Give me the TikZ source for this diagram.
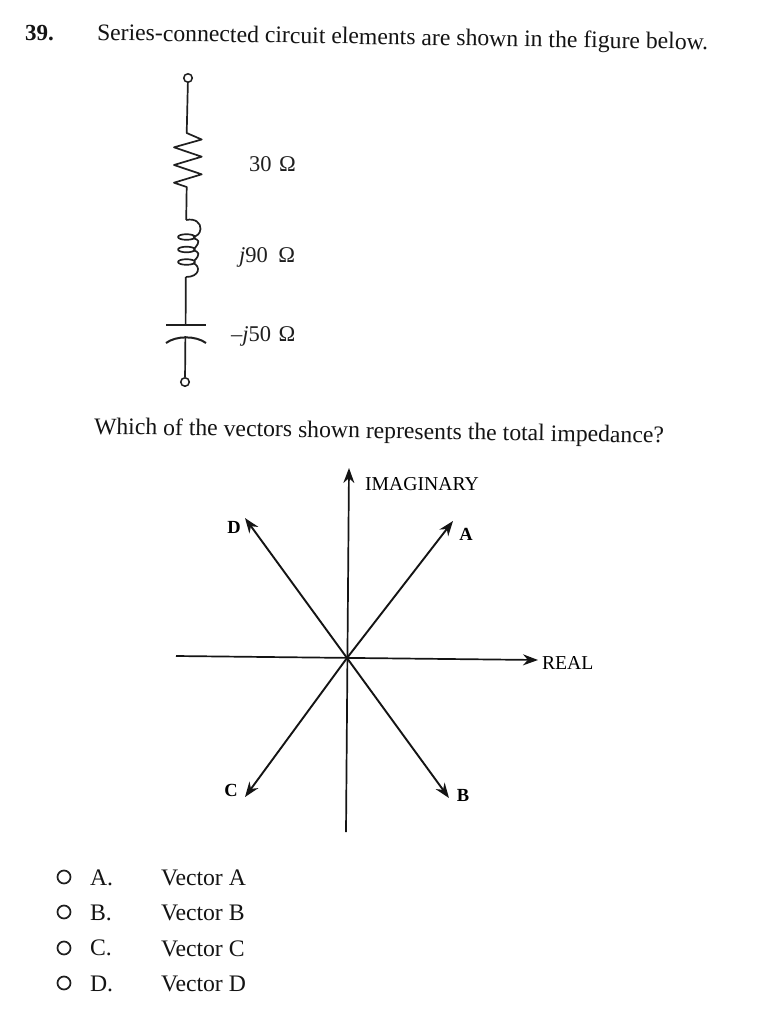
\documentclass[tikz,border=0pt]{standalone}
\usepackage{fontspec}
\setmainfont{Liberation Serif}
\usetikzlibrary{arrows.meta}
\tikzset{
  txt/.style={anchor=base west,inner sep=0pt,outer sep=0pt,font=\fontsize{23.7}{26}\selectfont,text=black!92},
  para/.style={txt,rotate=-0.9},
  lab/.style={anchor=base west,inner sep=0pt,outer sep=0pt,font=\fontsize{22.5}{24}\selectfont,text=black!88},
  axlab/.style={anchor=base west,inner sep=0pt,outer sep=0pt,font=\fontsize{19.7}{24}\selectfont,text=black},
  veclab/.style={anchor=center,inner sep=0pt,outer sep=0pt,font=\bfseries\fontsize{18.5}{20}\selectfont,text=black},
  wire/.style={line width=1.7pt,draw=black!88,line join=round},
  term/.style={circle,draw=black!88,line width=1.5pt,minimum size=8.5pt,inner sep=0pt,fill=white},
  vec/.style={line width=1.9pt,draw=black!92,-{Stealth[length=15pt,width=11pt]}},
  axisline/.style={line width=1.7pt,draw=black!92},
  radio/.style={circle,draw=black!88,line width=1.7pt,minimum size=13pt,inner sep=0pt}
}
\begin{document}
\begin{tikzpicture}[x=1pt,y=-1pt]
\useasboundingbox (0,0) rectangle (756,1010);
\fill[white] (0,0) rectangle (756,1010);

\node[txt,font=\bfseries\fontsize{23}{26}\selectfont] (qnum) at (25,40) {39.};
\node[para] (q1) at (97,40) {Series-connected circuit elements are shown in the figure below.};
\node[para] (q2) at (94,434) {Which of the vectors shown represents the total impedance?};

% circuit
\node[term] (top) at (188,78) {};
\node[term] (bot) at (185,382) {};
\coordinate (r0) at (186.7,133);
\coordinate (r1) at (186.7,187);
\coordinate (l0) at (186.2,220);
\coordinate (l1) at (185.8,277);
\coordinate (c0) at (185.6,325);
\coordinate (c1) at (185.4,336);
\draw[wire] (top) -- (r0) -- (201.7,139.5) -- (174,147.3) -- (201.7,156.7) -- (174,165) -- (201.7,174.3) -- (174,182.7) -- (r1) -- (l0);
\draw[wire] (l0) .. controls (195,218) and (201,223) .. (200.5,229) .. controls (200,234) and (197,236) .. (193,237);
\draw[wire] (186.5,237) ellipse (8.5 and 2.8);
\draw[wire] (186.5,249.5) ellipse (8.5 and 2.8);
\draw[wire] (186.5,262) ellipse (8.5 and 2.8);
\draw[wire] (193,238) .. controls (199,240) and (201,241) .. (194,249);
\draw[wire] (193,250) .. controls (199,252) and (201,254) .. (194,261);
\draw[wire] (193,263) .. controls (201,266) and (200,277) .. (l1);
\draw[wire] (l1) -- (c0);
\draw[line width=2pt,draw=black!88] (166,325) -- (206,325);
\draw[line width=2pt,draw=black!88] (166,343) .. controls (176,335.5) and (196,335.5) .. (206,343);
\draw[wire] (c1) -- (bot);

\node[lab] (rlab) at (249,171) {30\hspace{2pt} Ω};
\node[lab] (llab) at (239,262) {\textit{j}90\hspace{5pt} Ω};
\node[lab] (clab) at (231,341) {–\textit{j}50\hspace{2pt} Ω};

% phasor diagram
\coordinate (o) at (347,658);
\coordinate (yb) at (346,832);
\coordinate (yt) at (349,468);
\coordinate (xl) at (176,656);
\coordinate (xr) at (538,660);
\coordinate (ta) at (453,521);
\coordinate (tb) at (449,798);
\coordinate (tc) at (245,797);
\coordinate (td) at (245,518);
\draw[axisline,-{Stealth[length=15pt,width=11pt]}] (yb) -- (yt);
\draw[axisline,-{Stealth[length=15pt,width=11pt]}] (xl) -- (xr);
\draw[vec] (o) -- (ta);
\draw[vec] (o) -- (tb);
\draw[vec] (o) -- (tc);
\draw[vec] (o) -- (td);
\node[axlab] (imag) at (365,490) {IMAGINARY};
\node[axlab] (real) at (542,669) {REAL};
\node[veclab] (la) at (466,534) {A};
\node[veclab] (lb) at (463,795) {B};
\node[veclab] (lc) at (231,790) {C};
\node[veclab] (ld) at (234,527) {D};

% options
\node[radio] (oa) at (64,877) {};
\node[radio] (ob) at (64,912) {};
\node[radio] (oc) at (64,948) {};
\node[radio] (od) at (64,983) {};
\node[txt] (a1) at (90,885) {A.};
\node[txt] (b1) at (90,920) {B.};
\node[txt] (c1t) at (90,955) {C.};
\node[txt] (d1) at (90,991) {D.};
\node[txt] (a2) at (161,885) {Vector A};
\node[txt] (b2) at (161,920) {Vector B};
\node[txt] (c2) at (161,956) {Vector C};
\node[txt] (d2) at (161,991) {Vector D};
\end{tikzpicture}
\end{document}
